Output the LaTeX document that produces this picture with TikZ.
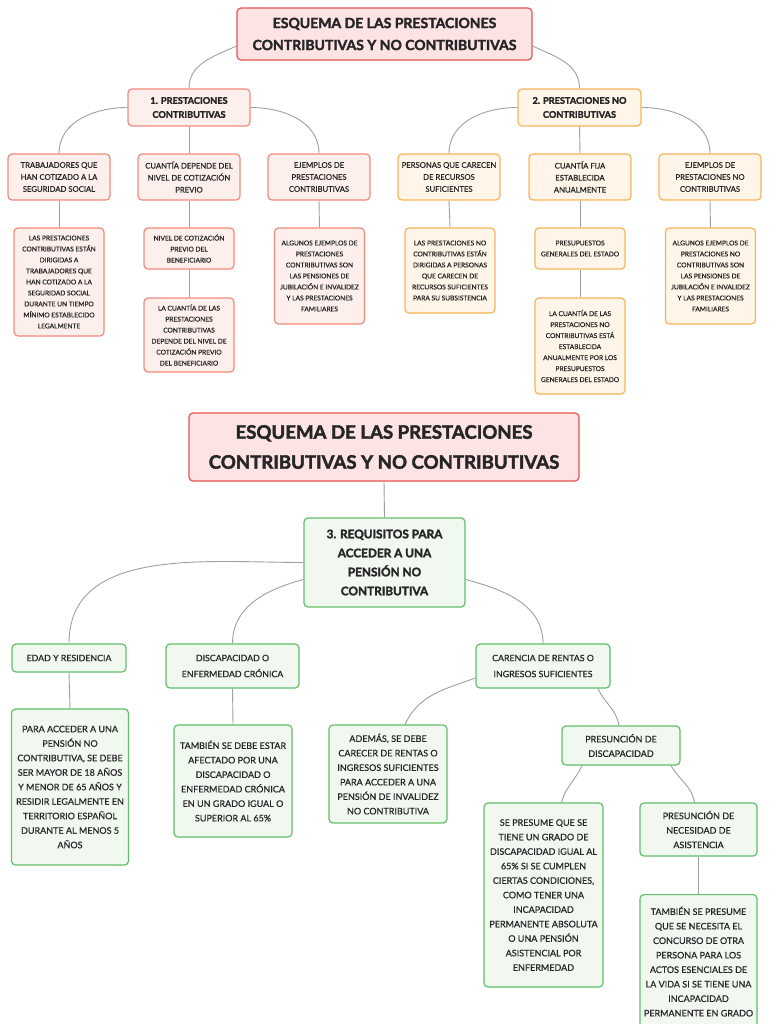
\documentclass[tikz,border=0pt]{standalone}
\usepackage{fontspec}
\setmainfont{Lato}[BoldFeatures={FakeBold=2.2},UprightFeatures={FakeBold=0.6}]
\usepackage{xcolor}
\usetikzlibrary{positioning,calc}

\definecolor{rojoborde}{HTML}{E8544F}
\definecolor{rojofondo}{HTML}{FDE3E3}
\definecolor{salmonborde}{HTML}{F28B7A}
\definecolor{salmonfondo}{HTML}{FDF0EC}
\definecolor{naranjaborde}{HTML}{F8B45A}
\definecolor{naranjafondo}{HTML}{FFF5E8}
\definecolor{verdeborde}{HTML}{62BF69}
\definecolor{verdefondo}{HTML}{F0F8F0}
\definecolor{texto}{HTML}{262626}

\begin{document}
\begin{tikzpicture}[
				x=1pt,y=1pt,
				caja/.style={draw,rectangle,rounded corners=4pt,line width=1.2pt,align=center,inner sep=2pt,text=texto},
				titulo/.style={caja,draw=rojoborde,fill=rojofondo,font=\bfseries\fontsize{14}{22}\selectfont},
				rojo/.style={caja,draw=salmonborde,fill=salmonfondo},
				naranja/.style={caja,draw=naranjaborde,fill=naranjafondo},
				verde/.style={caja,draw=verdeborde,fill=verdefondo},
				rama/.style={font=\bfseries\fontsize{9.2}{14}\selectfont},
				hoja/.style={minimum width=102,minimum height=46,font=\fontsize{7.7}{12}\selectfont},
				nota/.style={minimum width=90,font=\fontsize{6.6}{11}\selectfont},
				texto3/.style={font=\fontsize{9}{14.5}\selectfont},
				link/.style={draw=gray!75,line width=0.9pt}
				]
				
				\useasboundingbox (0,0) rectangle (768,-1024);
				\clip (0,0) rectangle (768,-1024);
				\fill[white] (0,0) rectangle (768,-1024);
				
				% Primer esquema
				\node[titulo,minimum width=295,minimum height=52] (esquema) at (384.5,-34) {ESQUEMA DE LAS PRESTACIONES\\CONTRIBUTIVAS Y NO CONTRIBUTIVAS};
				\node[rojo,rama,minimum width=122,minimum height=37] (contrib) at (189,-107.5) {1. PRESTACIONES\\CONTRIBUTIVAS};
				\node[naranja,rama,minimum width=123,minimum height=37] (nocontrib) at (579.5,-107.5) {2. PRESTACIONES NO\\CONTRIBUTIVAS};
				
				\node[rojo,hoja] (trab) at (59,-177) {TRABAJADORES QUE\\HAN COTIZADO A LA\\SEGURIDAD SOCIAL};
				\node[rojo,hoja] (cuantia) at (189,-177) {CUANTÍA DEPENDE DEL\\NIVEL DE COTIZACIÓN\\PREVIO};
				\node[rojo,hoja] (ejemplos) at (319,-177) {EJEMPLOS DE\\PRESTACIONES\\CONTRIBUTIVAS};
				\node[naranja,hoja] (personas) at (449,-177) {PERSONAS QUE CARECEN\\DE RECURSOS\\SUFICIENTES};
				\node[naranja,hoja] (fija) at (580,-177) {CUANTÍA FIJA\\ESTABLECIDA\\ANUALMENTE};
				\node[naranja,hoja] (ejemplosno) at (710,-177) {EJEMPLOS DE\\PRESTACIONES NO\\CONTRIBUTIVAS};
				
				\node[rojo,nota,minimum height=108] (trabtxt) at (59,-282) {LAS PRESTACIONES\\CONTRIBUTIVAS ESTÁN\\DIRIGIDAS A\\TRABAJADORES QUE\\HAN COTIZADO A LA\\SEGURIDAD SOCIAL\\DURANTE UN TIEMPO\\MÍNIMO ESTABLECIDO\\LEGALMENTE};
				\node[rojo,nota,minimum height=41] (nivel) at (189,-248.5) {NIVEL DE COTIZACIÓN\\PREVIO DEL\\BENEFICIARIO};
				\node[rojo,nota,minimum height=74] (nivtxt) at (189,-335) {LA CUANTÍA DE LAS\\PRESTACIONES\\CONTRIBUTIVAS\\DEPENDE DEL NIVEL DE\\COTIZACIÓN PREVIO\\DEL BENEFICIARIO};
				\node[rojo,nota,minimum height=96] (ejtxt) at (319.5,-276) {ALGUNOS EJEMPLOS DE\\PRESTACIONES\\CONTRIBUTIVAS SON\\LAS PENSIONES DE\\JUBILACIÓN E INVALIDEZ\\Y LAS PRESTACIONES\\FAMILIARES};
				\node[naranja,nota,minimum height=85] (perstxt) at (450,-270.5) {LAS PRESTACIONES NO\\CONTRIBUTIVAS ESTÁN\\DIRIGIDAS A PERSONAS\\QUE CARECEN DE\\RECURSOS SUFICIENTES\\PARA SU SUBSISTENCIA};
				\node[naranja,nota,minimum height=41] (presup) at (580,-248.5) {PRESUPUESTOS\\GENERALES DEL ESTADO};
				\node[naranja,nota,minimum height=96] (presuptxt) at (580,-346) {LA CUANTÍA DE LAS\\PRESTACIONES NO\\CONTRIBUTIVAS ESTÁ\\ESTABLECIDA\\ANUALMENTE POR LOS\\PRESUPUESTOS\\GENERALES DEL ESTADO};
				\node[naranja,nota,minimum height=96] (ejnotxt) at (710.5,-276) {ALGUNOS EJEMPLOS DE\\PRESTACIONES NO\\CONTRIBUTIVAS SON\\LAS PENSIONES DE\\JUBILACIÓN E INVALIDEZ\\Y LAS PRESTACIONES\\FAMILIARES};
				
				% Lineas
				\draw[link] ([yshift=-12]esquema.west) to[out=205,in=90] (contrib.north);
				\draw[link] ([yshift=-12]esquema.east) to[out=-25,in=90] (nocontrib.north);
				\draw[link] (contrib.west) to[out=180,in=90] (trab.north);
				\draw[link] (contrib.south) -- (cuantia.north);
				\draw[link] (contrib.east) to[out=0,in=90] (ejemplos.north);
				\draw[link] (nocontrib.west) to[out=180,in=90] (personas.north);
				\draw[link] (nocontrib.south) -- (fija.north);
				\draw[link] (nocontrib.east) to[out=0,in=90] (ejemplosno.north);
				\draw[link] (trab.south) -- (trabtxt.north);
				\draw[link] (cuantia.south) -- (nivel.north);
				\draw[link] (nivel.south) -- (nivtxt.north);
				\draw[link] (ejemplos.south) -- (ejtxt.north);
				\draw[link] (personas.south) -- (perstxt.north);
				\draw[link] (fija.south) -- (presup.north);
				\draw[link] (presup.south) -- (presuptxt.north);
				\draw[link] (ejemplosno.south) -- (ejnotxt.north);
				
				% Segundo esquema
				\node[titulo,minimum width=390,minimum height=68,font=\bfseries\fontsize{18.6}{30}\selectfont] (esquemados) at (384,-447) {ESQUEMA DE LAS PRESTACIONES\\CONTRIBUTIVAS Y NO CONTRIBUTIVAS};
				\node[verde,minimum width=161,minimum height=89,font=\bfseries\fontsize{11.8}{19}\selectfont] (requisitos) at (384.5,-562.5) {3. REQUISITOS PARA\\ACCEDER A UNA\\PENSIÓN NO\\CONTRIBUTIVA};
				
				\node[verde,minimum width=114,minimum height=28,font=\fontsize{8.8}{16}\selectfont] (edad) at (69,-658) {EDAD Y RESIDENCIA};
				\node[verde,minimum width=133,minimum height=44,font=\fontsize{8.8}{16}\selectfont] (discap) at (232.5,-666) {DISCAPACIDAD O\\ENFERMEDAD CRÓNICA};
				\node[verde,minimum width=134,minimum height=44,font=\fontsize{8.8}{16}\selectfont] (carencia) at (543,-666) {CARENCIA DE RENTAS O\\INGRESOS SUFICIENTES};
				
				\node[verde,texto3,minimum width=117,minimum height=156] (edadtxt) at (70,-787) {PARA ACCEDER A UNA\\PENSIÓN NO\\CONTRIBUTIVA, SE DEBE\\SER MAYOR DE 18 AÑOS\\Y MENOR DE 65 AÑOS Y\\RESIDIR LEGALMENTE EN\\TERRITORIO ESPAÑOL\\DURANTE AL MENOS 5\\AÑOS};
				\node[verde,texto3,minimum width=118,minimum height=112] (discaptxt) at (233,-781) {TAMBIÉN SE DEBE ESTAR\\AFECTADO POR UNA\\DISCAPACIDAD O\\ENFERMEDAD CRÓNICA\\EN UN GRADO IGUAL O\\SUPERIOR AL 65\%};
				\node[verde,texto3,minimum width=118,minimum height=98] (ademas) at (388,-774) {ADEMÁS, SE DEBE\\CARECER DE RENTAS O\\INGRESOS SUFICIENTES\\PARA ACCEDER A UNA\\PENSIÓN DE INVALIDEZ\\NO CONTRIBUTIVA};
				\node[verde,texto3,minimum width=118,minimum height=39] (presdisc) at (621,-745.5) {PRESUNCIÓN DE\\DISCAPACIDAD};
				\node[verde,texto3,minimum width=119,minimum height=184] (grado) at (543.5,-895) {SE PRESUME QUE SE\\TIENE UN GRADO DE\\DISCAPACIDAD IGUAL AL\\65\% SI SE CUMPLEN\\CIERTAS CONDICIONES,\\COMO TENER UNA\\INCAPACIDAD\\PERMANENTE ABSOLUTA\\O UNA PENSIÓN\\ASISTENCIAL POR\\ENFERMEDAD};
				\node[verde,texto3,minimum width=117,minimum height=53] (presnec) at (698.5,-829.5) {PRESUNCIÓN DE\\NECESIDAD DE\\ASISTENCIA};
				\node[verde,texto3,minimum width=117,anchor=north,inner ysep=12pt] (asistxt) at (698.5,-894) {TAMBIÉN SE PRESUME\\QUE SE NECESITA EL\\CONCURSO DE OTRA\\PERSONA PARA LOS\\ACTOS ESENCIALES DE\\LA VIDA SI SE TIENE UNA\\INCAPACIDAD\\PERMANENTE EN GRADO};
				
				% Lineas
				\draw[link] (esquemados.south) -- (requisitos.north);
				\draw[link] (requisitos.west) to[out=180,in=90] (edad.north);
				\draw[link] ([yshift=-17]requisitos.west) to[out=195,in=90] (discap.north);
				\draw[link] ([yshift=-17]requisitos.east) to[out=-15,in=90] (carencia.north);
				\draw[link] (edad.south) -- (edadtxt.north);
				\draw[link] (discap.south) -- (discaptxt.north);
				\draw[link] ([yshift=-12]carencia.west) to[out=200,in=65] ([xshift=17]ademas.north);
				\draw[link] ([xshift=55]carencia.south) to[out=-65,in=100] ([xshift=-2]presdisc.north);
				\draw[link] ([xshift=-39]presdisc.south) to[out=-115,in=75] ([xshift=18]grado.north);
				\draw[link] ([xshift=50]presdisc.south) to[out=-60,in=100] ([xshift=-4]presnec.north);
				\draw[link] (presnec.south) -- (asistxt.north);
				
			\end{tikzpicture}
\end{document}
